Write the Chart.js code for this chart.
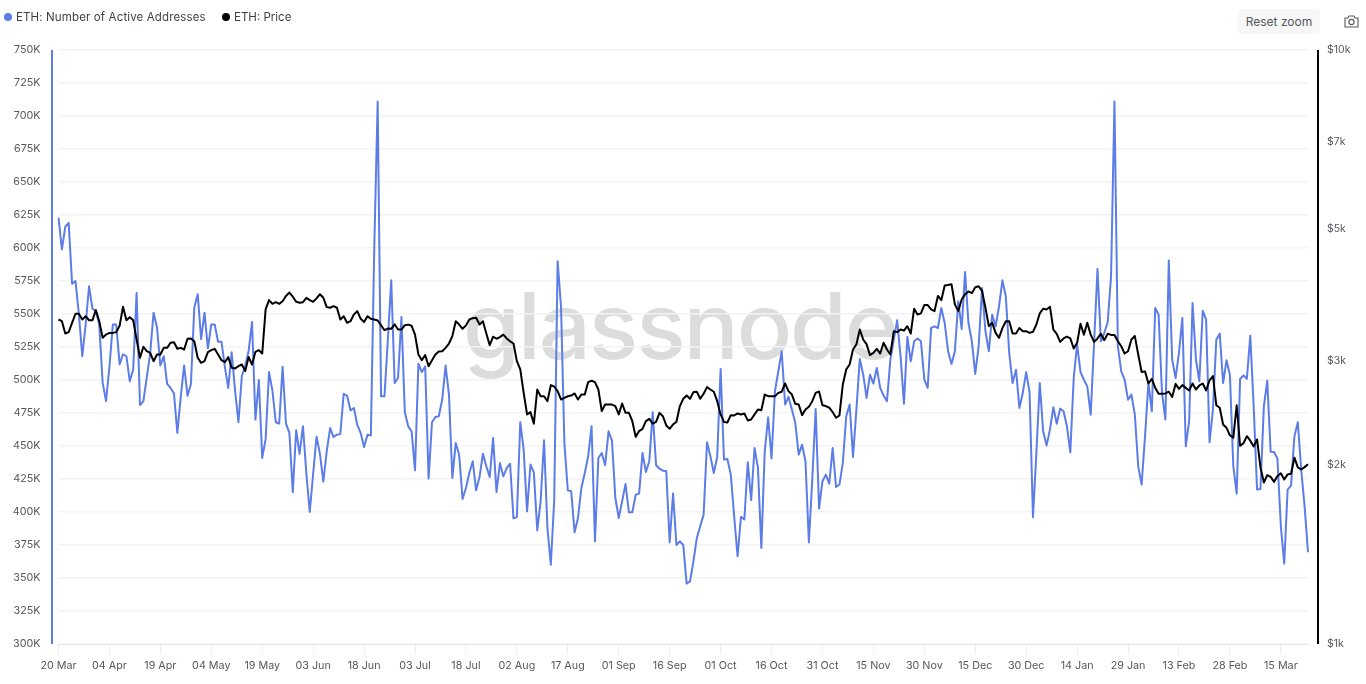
<!DOCTYPE html>
<html>
<head>
<meta charset="utf-8">
<script src="https://cdn.jsdelivr.net/npm/chart.js@4"></script>
<style>
html,body{margin:0;padding:0;background:#fff;width:1366px;height:684px;overflow:hidden;font-family:Inter,"Noto Sans",sans-serif}
#wrap{position:relative;width:1366px;height:684px}
#mark{position:absolute;left:463px;top:276px;font:500 92px Inter,sans-serif;letter-spacing:-2.2px;color:#dbdcdc;line-height:100px;white-space:nowrap}
canvas{position:absolute;left:0;top:0}
.leg{position:absolute;top:10px;font-size:11.5px;line-height:15px;color:#3c3f44;white-space:nowrap}
.dot{position:absolute;top:13px;width:8px;height:8px;border-radius:50%}
#reset{position:absolute;left:1238px;top:9px;width:82px;height:25px;border-radius:4px;background:#f7f7f8;color:#54575c;font-size:12px;line-height:25px;text-align:center}
#cam{position:absolute;left:1344px;top:15px}
</style>
</head>
<body>
<div id="wrap">
<div id="mark">glassnode</div>
<canvas id="c" width="1366" height="684"></canvas>
<div class="dot" style="left:4px;background:#5c7de7"></div>
<div class="leg" style="left:16px;letter-spacing:.13px">ETH: Number of Active Addresses</div>
<div class="dot" style="left:222px;background:#000"></div>
<div class="leg" style="left:234px">ETH: Price</div>
<div id="reset">Reset zoom</div>
<svg id="cam" width="15" height="13" viewBox="0 0 15 13" fill="none" stroke="#55585c" stroke-width="1.1"><path d="M1 3h3l1-2h5l1 2h3v9H1z"/><circle cx="7.5" cy="7" r="2.6"/></svg>
</div>
<script>
const activeAddressesK = [
623,599,616,619,573,575,550,518,542,571,554,552,542,498,484,510,542,542,512,519.5,
518,499,508,566,481,484,502,520,551,540,511,518,497,494,490,460,487,511,488,497,
555,565,531,551,524,542,542,529,529,510,494,521,492,468,503,511,522,544,470,500,
441,455,506,492,468,467,510,467,460,415,462,444,465,429,400,429,457,444,423,446,
463.6,456.8,458.6,459,489.6,488,477,478.8,466,459.8,449.2,458.6,458,600,711,487.6,487.6,530.5,575.5,497.7,
501.5,547.7,475.5,464.9,461,431.6,512.4,506,510.3,425.3,468,472,472.5,485,510.9,488.9,425.8,452.3,443.4,409.9,
418.2,429.6,438.4,416.4,426.5,444.2,434.6,426.5,456,415.1,437.1,427,433.3,436.6,395.2,396.2,468,447.2,400.5,435.9,
430,386.1,408.1,454.3,387.9,360.1,409.3,589.9,555.8,451.8,416.4,415.7,384.6,395.5,418.2,429.6,442.2,464.9,377.8,440.9,
444.7,435.4,461.1,454.3,410.6,395.5,408.1,421.2,399.8,399.8,413.1,413.9,444.7,430.3,438.4,475.5,435.4,432.8,431.3,430.8,
377,414,375,377.8,375,345.8,347.5,362.7,380.4,389.2,398,452.8,442.2,429.6,441.7,508.4,439.7,440.2,428.3,396.8,
366.5,396.3,394.3,437.7,408.9,448.5,433.4,372.8,446,471.8,440.5,491.5,506.6,521.8,481.4,487.2,477.6,467.5,443.5,451,
438.4,377,424.5,478,402.6,423.3,428.3,421.5,448.5,419,420.8,437.2,472.5,481.4,441.7,477.6,516,504,486.4,504,
497.3,509.1,494,488.2,483.9,515.4,530.6,545.2,518,482.1,532.6,514.2,529.3,531.4,529.3,500.3,494,539.4,540.7,539.4,
554.6,543.2,521.8,512.2,521.8,559.6,538.7,581.9,543.2,529.3,504.6,525.6,569.7,536.9,521.8,549.5,540.6,555.8,575.5,563.4,
520.5,497.7,507.8,478.8,490.2,506,490.6,396,444.7,497.7,461.1,450.3,462.4,479.3,466.9,478.3,476.3,464.9,445.2,501.5,
526.8,506,500.2,495.2,473.7,528,584,529.3,535.6,543.7,578.5,711,525.5,506.6,500.2,485,488.9,473.7,434.6,420.7,
457.3,497.7,476.3,554.5,549.5,490.2,470,590.6,515.4,501.5,520.5,547,449.8,468.7,558.3,515.4,499,552.5,545.7,452.8,
477.5,530.6,535.1,497.7,514.9,504,434.6,413.9,500.8,503.5,501,533.6,480,417,417.4,480,499.5,445.7,445.5,440.4,
389.2,360.9,417,420,457.3,468,432.1,404.3,369.5
];
const priceUsd = [
3518,3495,3332,3350,3473,3597,3597,3518,3563,3508,3508,3648,3495,3277,3318,3340,3340,3350,3433,3697,
3508,3550,3508,3256,3033,3165,3111,3091,2993,3072,3072,3152,3152,3214,3222,3140,3152,3132,3265,3269,
3233,3033,2974,2993,3100,3124,3140,3072,3005,2982,3041,2918,2910,2936,2955,2880,3041,2955,3104,3124,
3083,3658,3792,3738,3762,3738,3777,3854,3905,3843,3768,3753,3762,3825,3792,3768,3818,3880,3828,3691,
3682,3705,3682,3518,3563,3473,3495,3588,3634,3527,3483,3563,3527,3518,3504,3441,3375,3397,3393,3453,
3384,3384,3441,3449,3433,3318,3072,3005,3064,2936,3005,3072,3108,3111,3152,3205,3299,3495,3450,3393,
3436,3518,3536,3541,3450,3495,3332,3184,3291,3265,3286,3318,3269,3233,3205,2993,2899,2647,2435,2457,
2349,2682,2613,2613,2563,2728,2711,2665,2580,2597,2613,2620,2641,2580,2630,2630,2760,2775,2760,2682,
2467,2530,2530,2530,2515,2435,2540,2450,2450,2372,2232,2283,2303,2372,2393,2349,2365,2450,2418,2333,
2303,2342,2367,2515,2587,2620,2587,2655,2659,2587,2638,2707,2682,2659,2563,2435,2365,2360,2428,2425,
2444,2435,2444,2379,2388,2435,2482,2475,2630,2613,2613,2613,2647,2659,2745,2665,2630,2537,2530,2428,
2482,2509,2563,2647,2662,2523,2515,2499,2457,2404,2425,2735,2899,2955,3132,3195,3384,3256,3195,3064,
3091,3140,3083,3214,3132,3072,3361,3350,3384,3371,3428,3332,3668,3588,3602,3720,3720,3658,3634,3854,
3792,4015,4020,4033,3730,3634,3802,3880,3922,3896,3986,4002,3930,3682,3428,3473,3340,3277,3403,3495,
3495,3332,3332,3403,3361,3361,3340,3354,3450,3602,3668,3658,3697,3384,3328,3226,3269,3291,3269,3144,
3214,3460,3318,3473,3318,3226,3269,3328,3247,3328,3314,3314,3233,3171,3083,3111,3256,3299,3072,2870,
2877,2745,2795,2699,2638,2638,2641,2659,2606,2741,2689,2728,2699,2671,2745,2682,2724,2745,2671,2779,
2826,2523,2499,2342,2312,2246,2224,2523,2156,2178,2238,2199,2150,2210,1983,1870,1925,1912,1875,1917,
1938,1892,1930,1935,2059,1983,1967,1985,2007
];
const priceTicks = [1000,2000,3000,5000,7000,10000];
const priceTickLabels = ['$1k','$2k','$3k','$5k','$7k','$10k'];
const months = ['Jan','Feb','Mar','Apr','May','Jun','Jul','Aug','Sep','Oct','Nov','Dec'];
const categories = activeAddressesK.map((_, i) => {
  const d = new Date(Date.UTC(2021, 2, 20 + i));
  return String(d.getUTCDate()).padStart(2, '0') + ' ' + months[d.getUTCMonth()];
});
const tickEvery = 15;
const BLUE = '#5c7de7', TEXT = '#55585d';
const font = {family: 'Inter', size: 10.75};

const axisLines = {
  id: 'axisLines',
  afterDraw(chart) {
    const {ctx, chartArea: a} = chart;
    ctx.save();
    ctx.lineWidth = 2;
    ctx.strokeStyle = BLUE;
    ctx.beginPath(); ctx.moveTo(52, a.top); ctx.lineTo(52, a.bottom); ctx.stroke();
    ctx.strokeStyle = '#000';
    ctx.beginPath(); ctx.moveTo(1318, a.top); ctx.lineTo(1318, a.bottom); ctx.stroke();
    ctx.restore();
  }
};

new Chart(document.getElementById('c'), {
  type: 'line',
  plugins: [axisLines],
  data: {
    labels: categories,
    datasets: [
      {label: 'ETH: Number of Active Addresses', data: activeAddressesK, yAxisID: 'y', borderColor: BLUE, backgroundColor: BLUE, borderWidth: 2, pointRadius: 0, tension: 0, order: 2, borderJoinStyle: 'round'},
      {label: 'ETH: Price', data: priceUsd, yAxisID: 'y1', borderColor: '#000', backgroundColor: '#000', borderWidth: 2, pointRadius: 0, tension: 0, order: 1, borderJoinStyle: 'round'}
    ]
  },
  options: {
    responsive: false,
    animation: false,
    devicePixelRatio: 1,
    layout: {padding: {top: 50, left: 0, right: 0, bottom: 0}},
    plugins: {legend: {display: false}, tooltip: {enabled: false}, title: {display: false}},
    scales: {
      x: {
        type: 'category',
        offset: false,
        afterFit(s) { s.height = 40; },
        border: {display: true, color: '#e8e8e8', width: 1},
        grid: {drawOnChartArea: false, drawTicks: true, tickLength: 10, color: '#eeeeee'},
        ticks: {
          autoSkip: false, maxRotation: 0, minRotation: 0, padding: 5, color: TEXT, font,
          callback(v, i) { return i % tickEvery === 0 ? categories[i] : null; }
        }
      },
      y: {
        position: 'left', min: 300, max: 750,
        afterFit(s) { s.width = 58.5; },
        border: {display: false},
        grid: {color: '#f3f3f3', lineWidth: 1.5, drawTicks: false},
        ticks: {stepSize: 25, autoSkip: false, padding: 18, color: TEXT, font, callback: v => v + 'K'}
      },
      y1: {
        type: 'logarithmic',
        position: 'right', min: 1000, max: 10000,
        afterFit(s) { s.width = 58; },
        afterBuildTicks(s) { s.ticks = priceTicks.map(value => ({value})); },
        border: {display: false},
        grid: {display: false, drawTicks: false},
        ticks: {autoSkip: false, padding: 19, color: TEXT, font: {family: 'Inter', size: 10.5},
          callback: v => priceTickLabels[priceTicks.indexOf(v)]}
      }
    }
  }
});
</script>
</body>
</html>
